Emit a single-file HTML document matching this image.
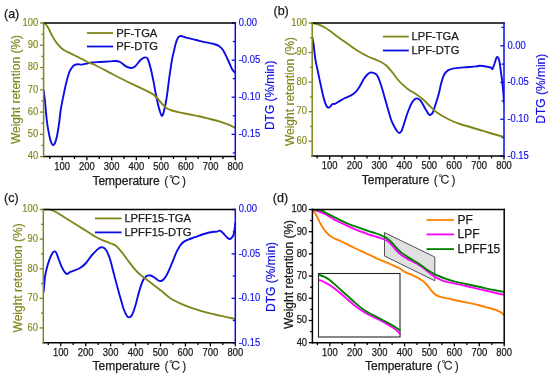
<!DOCTYPE html>
<html><head><meta charset="utf-8"><title>TGA / DTG curves</title>
<style>html,body{margin:0;padding:0;background:#fff;}svg{display:block;}</style>
</head><body>
<svg width="550" height="379" viewBox="0 0 550 379" font-family="'Liberation Sans', Arial, sans-serif">
<rect width="550" height="379" fill="#ffffff"/>
<text x="4" y="17.8" fill="#1a1a1a" stroke="#1a1a1a" stroke-width="0.25" font-size="12.5" text-anchor="start">(a)</text>
<text x="273.5" y="15.3" fill="#1a1a1a" stroke="#1a1a1a" stroke-width="0.25" font-size="12.5" text-anchor="start">(b)</text>
<text x="4" y="202" fill="#1a1a1a" stroke="#1a1a1a" stroke-width="0.25" font-size="12.5" text-anchor="start">(c)</text>
<text x="272.8" y="202.2" fill="#1a1a1a" stroke="#1a1a1a" stroke-width="0.25" font-size="12.5" text-anchor="start">(d)</text>
<clipPath id="clipa"><rect x="43.6" y="22" width="191.7" height="135.6"/></clipPath>
<line x1="62.15" y1="156.6" x2="62.15" y2="160.2" stroke="#000000" stroke-width="1.3"/>
<text x="62.15" y="169.5" fill="#1a1a1a" stroke="#1a1a1a" stroke-width="0.25" font-size="10.4" text-anchor="middle" textLength="15.68" lengthAdjust="spacingAndGlyphs">100</text>
<line x1="86.89" y1="156.6" x2="86.89" y2="160.2" stroke="#000000" stroke-width="1.3"/>
<text x="86.89" y="169.5" fill="#1a1a1a" stroke="#1a1a1a" stroke-width="0.25" font-size="10.4" text-anchor="middle" textLength="15.68" lengthAdjust="spacingAndGlyphs">200</text>
<line x1="111.62" y1="156.6" x2="111.62" y2="160.2" stroke="#000000" stroke-width="1.3"/>
<text x="111.62" y="169.5" fill="#1a1a1a" stroke="#1a1a1a" stroke-width="0.25" font-size="10.4" text-anchor="middle" textLength="15.68" lengthAdjust="spacingAndGlyphs">300</text>
<line x1="136.36" y1="156.6" x2="136.36" y2="160.2" stroke="#000000" stroke-width="1.3"/>
<text x="136.36" y="169.5" fill="#1a1a1a" stroke="#1a1a1a" stroke-width="0.25" font-size="10.4" text-anchor="middle" textLength="15.68" lengthAdjust="spacingAndGlyphs">400</text>
<line x1="161.09" y1="156.6" x2="161.09" y2="160.2" stroke="#000000" stroke-width="1.3"/>
<text x="161.09" y="169.5" fill="#1a1a1a" stroke="#1a1a1a" stroke-width="0.25" font-size="10.4" text-anchor="middle" textLength="15.68" lengthAdjust="spacingAndGlyphs">500</text>
<line x1="185.83" y1="156.6" x2="185.83" y2="160.2" stroke="#000000" stroke-width="1.3"/>
<text x="185.83" y="169.5" fill="#1a1a1a" stroke="#1a1a1a" stroke-width="0.25" font-size="10.4" text-anchor="middle" textLength="15.68" lengthAdjust="spacingAndGlyphs">600</text>
<line x1="210.56" y1="156.6" x2="210.56" y2="160.2" stroke="#000000" stroke-width="1.3"/>
<text x="210.56" y="169.5" fill="#1a1a1a" stroke="#1a1a1a" stroke-width="0.25" font-size="10.4" text-anchor="middle" textLength="15.68" lengthAdjust="spacingAndGlyphs">700</text>
<line x1="235.3" y1="156.6" x2="235.3" y2="160.2" stroke="#000000" stroke-width="1.3"/>
<text x="235.3" y="169.5" fill="#1a1a1a" stroke="#1a1a1a" stroke-width="0.25" font-size="10.4" text-anchor="middle" textLength="15.68" lengthAdjust="spacingAndGlyphs">800</text>
<line x1="49.78" y1="156.6" x2="49.78" y2="159" stroke="#000000" stroke-width="1.3"/>
<line x1="74.52" y1="156.6" x2="74.52" y2="159" stroke="#000000" stroke-width="1.3"/>
<line x1="99.25" y1="156.6" x2="99.25" y2="159" stroke="#000000" stroke-width="1.3"/>
<line x1="123.99" y1="156.6" x2="123.99" y2="159" stroke="#000000" stroke-width="1.3"/>
<line x1="148.73" y1="156.6" x2="148.73" y2="159" stroke="#000000" stroke-width="1.3"/>
<line x1="173.46" y1="156.6" x2="173.46" y2="159" stroke="#000000" stroke-width="1.3"/>
<line x1="198.2" y1="156.6" x2="198.2" y2="159" stroke="#000000" stroke-width="1.3"/>
<line x1="222.93" y1="156.6" x2="222.93" y2="159" stroke="#000000" stroke-width="1.3"/>
<line x1="40" y1="156.6" x2="43.6" y2="156.6" stroke="#80861A" stroke-width="1.3"/>
<text x="38.3" y="159.4" fill="#80861A" stroke="#80861A" stroke-width="0.15" font-size="10.4" text-anchor="end" textLength="10.45" lengthAdjust="spacingAndGlyphs">40</text>
<line x1="40" y1="134.33" x2="43.6" y2="134.33" stroke="#80861A" stroke-width="1.3"/>
<text x="38.3" y="137.13" fill="#80861A" stroke="#80861A" stroke-width="0.15" font-size="10.4" text-anchor="end" textLength="10.45" lengthAdjust="spacingAndGlyphs">50</text>
<line x1="40" y1="112.07" x2="43.6" y2="112.07" stroke="#80861A" stroke-width="1.3"/>
<text x="38.3" y="114.87" fill="#80861A" stroke="#80861A" stroke-width="0.15" font-size="10.4" text-anchor="end" textLength="10.45" lengthAdjust="spacingAndGlyphs">60</text>
<line x1="40" y1="89.8" x2="43.6" y2="89.8" stroke="#80861A" stroke-width="1.3"/>
<text x="38.3" y="92.6" fill="#80861A" stroke="#80861A" stroke-width="0.15" font-size="10.4" text-anchor="end" textLength="10.45" lengthAdjust="spacingAndGlyphs">70</text>
<line x1="40" y1="67.53" x2="43.6" y2="67.53" stroke="#80861A" stroke-width="1.3"/>
<text x="38.3" y="70.33" fill="#80861A" stroke="#80861A" stroke-width="0.15" font-size="10.4" text-anchor="end" textLength="10.45" lengthAdjust="spacingAndGlyphs">80</text>
<line x1="40" y1="45.27" x2="43.6" y2="45.27" stroke="#80861A" stroke-width="1.3"/>
<text x="38.3" y="48.07" fill="#80861A" stroke="#80861A" stroke-width="0.15" font-size="10.4" text-anchor="end" textLength="10.45" lengthAdjust="spacingAndGlyphs">90</text>
<line x1="40" y1="23" x2="43.6" y2="23" stroke="#80861A" stroke-width="1.3"/>
<text x="38.3" y="25.8" fill="#80861A" stroke="#80861A" stroke-width="0.15" font-size="10.4" text-anchor="end" textLength="15.68" lengthAdjust="spacingAndGlyphs">100</text>
<line x1="41.3" y1="145.47" x2="43.6" y2="145.47" stroke="#80861A" stroke-width="1.3"/>
<line x1="41.3" y1="123.2" x2="43.6" y2="123.2" stroke="#80861A" stroke-width="1.3"/>
<line x1="41.3" y1="100.93" x2="43.6" y2="100.93" stroke="#80861A" stroke-width="1.3"/>
<line x1="41.3" y1="78.67" x2="43.6" y2="78.67" stroke="#80861A" stroke-width="1.3"/>
<line x1="41.3" y1="56.4" x2="43.6" y2="56.4" stroke="#80861A" stroke-width="1.3"/>
<line x1="41.3" y1="34.13" x2="43.6" y2="34.13" stroke="#80861A" stroke-width="1.3"/>
<line x1="231.6" y1="23" x2="235.3" y2="23" stroke="#0C0CE6" stroke-width="1.3"/>
<text x="238.7" y="25.8" fill="#0C0CE6" stroke="#0C0CE6" stroke-width="0.15" font-size="10.4" text-anchor="start" textLength="18.29" lengthAdjust="spacingAndGlyphs">0.00</text>
<line x1="231.6" y1="60.11" x2="235.3" y2="60.11" stroke="#0C0CE6" stroke-width="1.3"/>
<text x="238.7" y="62.91" fill="#0C0CE6" stroke="#0C0CE6" stroke-width="0.15" font-size="10.4" text-anchor="start" textLength="21.42" lengthAdjust="spacingAndGlyphs">-0.05</text>
<line x1="231.6" y1="97.22" x2="235.3" y2="97.22" stroke="#0C0CE6" stroke-width="1.3"/>
<text x="238.7" y="100.02" fill="#0C0CE6" stroke="#0C0CE6" stroke-width="0.15" font-size="10.4" text-anchor="start" textLength="21.42" lengthAdjust="spacingAndGlyphs">-0.10</text>
<line x1="231.6" y1="134.33" x2="235.3" y2="134.33" stroke="#0C0CE6" stroke-width="1.3"/>
<text x="238.7" y="137.13" fill="#0C0CE6" stroke="#0C0CE6" stroke-width="0.15" font-size="10.4" text-anchor="start" textLength="21.42" lengthAdjust="spacingAndGlyphs">-0.15</text>
<line x1="232.8" y1="41.56" x2="235.3" y2="41.56" stroke="#0C0CE6" stroke-width="1.3"/>
<line x1="232.8" y1="78.67" x2="235.3" y2="78.67" stroke="#0C0CE6" stroke-width="1.3"/>
<line x1="232.8" y1="115.78" x2="235.3" y2="115.78" stroke="#0C0CE6" stroke-width="1.3"/>
<line x1="232.8" y1="152.89" x2="235.3" y2="152.89" stroke="#0C0CE6" stroke-width="1.3"/>
<path d="M43.6,90C43.82,91.67 44.53,96.67 44.9,100C45.27,103.33 45.45,106.33 45.8,110C46.15,113.67 46.47,118 47,122C47.53,126 48.33,130.67 49,134C49.67,137.33 50.33,140.17 51,142C51.67,143.83 52.33,144.83 53,145C53.67,145.17 54.33,144.5 55,143C55.67,141.5 56.33,139.17 57,136C57.67,132.83 58.38,128.33 59,124C59.62,119.67 59.98,114.6 60.7,110C61.42,105.4 62.42,100.78 63.3,96.4C64.18,92.02 65.12,87.4 66,83.7C66.88,80 67.87,76.48 68.6,74.2C69.33,71.92 69.55,71.45 70.4,70C71.25,68.55 72.5,66.47 73.7,65.5C74.9,64.53 76.28,64.35 77.6,64.2C78.92,64.05 80.05,64.72 81.6,64.6C83.15,64.48 85.17,63.85 86.9,63.5C88.63,63.15 89.82,62.75 92,62.5C94.18,62.25 97,62.18 100,62C103,61.82 107.5,61.57 110,61.4C112.5,61.23 113.33,60.9 115,61C116.67,61.1 118.17,61.1 120,62C121.83,62.9 124.17,65.4 126,66.4C127.83,67.4 129.5,67.97 131,68C132.5,68.03 133.42,67.93 135,66.6C136.58,65.27 138.82,61.53 140.5,60C142.18,58.47 143.87,57.53 145.1,57.4C146.33,57.27 146.97,57.35 147.9,59.2C148.83,61.05 149.77,64.8 150.7,68.5C151.63,72.2 152.58,76.82 153.5,81.4C154.42,85.98 155.25,91.4 156.2,96C157.15,100.6 158.27,105.7 159.2,109C160.13,112.3 161,115.47 161.8,115.8C162.6,116.13 163.2,113.97 164,111C164.8,108.03 165.72,103.55 166.6,98C167.48,92.45 168.38,84.17 169.3,77.7C170.22,71.23 171.28,63.82 172.1,59.2C172.92,54.58 173.62,52.53 174.2,50C174.78,47.47 174.97,46.03 175.6,44C176.23,41.97 177.1,39.13 178,37.8C178.9,36.47 179.67,36.03 181,36C182.33,35.97 183.5,36.93 186,37.6C188.5,38.27 192.67,39.2 196,40C199.33,40.8 203,41.73 206,42.4C209,43.07 211.83,43.4 214,44C216.17,44.6 217.5,45 219,46C220.5,47 221.5,47.67 223,50C224.5,52.33 226.5,56.83 228,60C229.5,63.17 230.78,66.83 232,69C233.22,71.17 234.75,72.33 235.3,73" fill="none" stroke="#0C0CE6" stroke-width="1.9" stroke-linejoin="round" stroke-linecap="round" clip-path="url(#clipa)"/>
<path d="M43.6,23C44,23.27 45.28,23.88 46,24.6C46.72,25.32 47.25,26.2 47.9,27.3C48.55,28.4 49.23,29.88 49.9,31.2C50.57,32.52 51.13,33.77 51.9,35.2C52.67,36.63 53.52,38.27 54.5,39.8C55.48,41.33 56.58,42.97 57.8,44.4C59.02,45.83 60.48,47.3 61.8,48.4C63.12,49.5 64.17,50.13 65.7,51C67.23,51.87 69.02,52.62 71,53.6C72.98,54.58 75.4,55.8 77.6,56.9C79.8,58 82.22,59.2 84.2,60.2C86.18,61.2 87.53,62.02 89.5,62.9C91.47,63.78 92.58,63.85 96,65.5C99.42,67.15 105.33,70.38 110,72.8C114.67,75.22 119.83,77.92 124,80C128.17,82.08 131.63,83.68 135,85.3C138.37,86.92 141.43,88.35 144.2,89.7C146.97,91.05 149.45,92.02 151.6,93.4C153.75,94.78 155.4,96.32 157.1,98C158.8,99.68 160.25,101.83 161.8,103.5C163.35,105.17 164.72,106.83 166.4,108C168.08,109.17 169.75,109.77 171.9,110.5C174.05,111.23 176.28,111.73 179.3,112.4C182.32,113.07 186.55,113.82 190,114.5C193.45,115.18 196.67,115.75 200,116.5C203.33,117.25 206.67,118.15 210,119C213.33,119.85 217,120.7 220,121.6C223,122.5 225.45,123.33 228,124.4C230.55,125.47 234.08,127.4 235.3,128" fill="none" stroke="#80861A" stroke-width="1.9" stroke-linejoin="round" stroke-linecap="round" clip-path="url(#clipa)"/>
<line x1="42.85" y1="23" x2="236.05" y2="23" stroke="#000000" stroke-width="1.5"/>
<line x1="42.85" y1="156.6" x2="236.05" y2="156.6" stroke="#000000" stroke-width="1.5"/>
<line x1="43.6" y1="22.25" x2="43.6" y2="157.35" stroke="#80861A" stroke-width="1.5"/>
<line x1="235.3" y1="22.25" x2="235.3" y2="157.35" stroke="#0C0CE6" stroke-width="1.5"/>
<line x1="86.9" y1="33" x2="113.1" y2="33" stroke="#80861A" stroke-width="1.8"/>
<line x1="86.9" y1="46.5" x2="113.1" y2="46.5" stroke="#0C0CE6" stroke-width="1.8"/>
<text x="116.3" y="36.9" fill="#1a1a1a" stroke="#1a1a1a" stroke-width="0.25" font-size="11.2" text-anchor="start">PF-TGA</text>
<text x="116.3" y="50.3" fill="#1a1a1a" stroke="#1a1a1a" stroke-width="0.25" font-size="11.2" text-anchor="start">PF-DTG</text>
<text transform="translate(20.2,89.5) rotate(-90)" fill="#80861A" stroke="#80861A" stroke-width="0.15" font-size="12" text-anchor="middle">Weight retention (%)</text>
<text transform="translate(274.3,95.3) rotate(-90)" fill="#0C0CE6" stroke="#0C0CE6" stroke-width="0.15" font-size="11.9" text-anchor="middle">DTG (%/min)</text>
<clipPath id="clipb"><rect x="312.2" y="22" width="191.8" height="135"/></clipPath>
<line x1="329.64" y1="156" x2="329.64" y2="159.6" stroke="#000000" stroke-width="1.3"/>
<text x="329.64" y="168.9" fill="#1a1a1a" stroke="#1a1a1a" stroke-width="0.25" font-size="10.4" text-anchor="middle" textLength="15.68" lengthAdjust="spacingAndGlyphs">100</text>
<line x1="354.55" y1="156" x2="354.55" y2="159.6" stroke="#000000" stroke-width="1.3"/>
<text x="354.55" y="168.9" fill="#1a1a1a" stroke="#1a1a1a" stroke-width="0.25" font-size="10.4" text-anchor="middle" textLength="15.68" lengthAdjust="spacingAndGlyphs">200</text>
<line x1="379.45" y1="156" x2="379.45" y2="159.6" stroke="#000000" stroke-width="1.3"/>
<text x="379.45" y="168.9" fill="#1a1a1a" stroke="#1a1a1a" stroke-width="0.25" font-size="10.4" text-anchor="middle" textLength="15.68" lengthAdjust="spacingAndGlyphs">300</text>
<line x1="404.36" y1="156" x2="404.36" y2="159.6" stroke="#000000" stroke-width="1.3"/>
<text x="404.36" y="168.9" fill="#1a1a1a" stroke="#1a1a1a" stroke-width="0.25" font-size="10.4" text-anchor="middle" textLength="15.68" lengthAdjust="spacingAndGlyphs">400</text>
<line x1="429.27" y1="156" x2="429.27" y2="159.6" stroke="#000000" stroke-width="1.3"/>
<text x="429.27" y="168.9" fill="#1a1a1a" stroke="#1a1a1a" stroke-width="0.25" font-size="10.4" text-anchor="middle" textLength="15.68" lengthAdjust="spacingAndGlyphs">500</text>
<line x1="454.18" y1="156" x2="454.18" y2="159.6" stroke="#000000" stroke-width="1.3"/>
<text x="454.18" y="168.9" fill="#1a1a1a" stroke="#1a1a1a" stroke-width="0.25" font-size="10.4" text-anchor="middle" textLength="15.68" lengthAdjust="spacingAndGlyphs">600</text>
<line x1="479.09" y1="156" x2="479.09" y2="159.6" stroke="#000000" stroke-width="1.3"/>
<text x="479.09" y="168.9" fill="#1a1a1a" stroke="#1a1a1a" stroke-width="0.25" font-size="10.4" text-anchor="middle" textLength="15.68" lengthAdjust="spacingAndGlyphs">700</text>
<line x1="504" y1="156" x2="504" y2="159.6" stroke="#000000" stroke-width="1.3"/>
<text x="504" y="168.9" fill="#1a1a1a" stroke="#1a1a1a" stroke-width="0.25" font-size="10.4" text-anchor="middle" textLength="15.68" lengthAdjust="spacingAndGlyphs">800</text>
<line x1="317.18" y1="156" x2="317.18" y2="158.4" stroke="#000000" stroke-width="1.3"/>
<line x1="342.09" y1="156" x2="342.09" y2="158.4" stroke="#000000" stroke-width="1.3"/>
<line x1="367" y1="156" x2="367" y2="158.4" stroke="#000000" stroke-width="1.3"/>
<line x1="391.91" y1="156" x2="391.91" y2="158.4" stroke="#000000" stroke-width="1.3"/>
<line x1="416.82" y1="156" x2="416.82" y2="158.4" stroke="#000000" stroke-width="1.3"/>
<line x1="441.73" y1="156" x2="441.73" y2="158.4" stroke="#000000" stroke-width="1.3"/>
<line x1="466.64" y1="156" x2="466.64" y2="158.4" stroke="#000000" stroke-width="1.3"/>
<line x1="491.55" y1="156" x2="491.55" y2="158.4" stroke="#000000" stroke-width="1.3"/>
<line x1="308.6" y1="141.22" x2="312.2" y2="141.22" stroke="#80861A" stroke-width="1.3"/>
<text x="306.9" y="144.02" fill="#80861A" stroke="#80861A" stroke-width="0.15" font-size="10.4" text-anchor="end" textLength="10.45" lengthAdjust="spacingAndGlyphs">60</text>
<line x1="308.6" y1="111.67" x2="312.2" y2="111.67" stroke="#80861A" stroke-width="1.3"/>
<text x="306.9" y="114.47" fill="#80861A" stroke="#80861A" stroke-width="0.15" font-size="10.4" text-anchor="end" textLength="10.45" lengthAdjust="spacingAndGlyphs">70</text>
<line x1="308.6" y1="82.11" x2="312.2" y2="82.11" stroke="#80861A" stroke-width="1.3"/>
<text x="306.9" y="84.91" fill="#80861A" stroke="#80861A" stroke-width="0.15" font-size="10.4" text-anchor="end" textLength="10.45" lengthAdjust="spacingAndGlyphs">80</text>
<line x1="308.6" y1="52.56" x2="312.2" y2="52.56" stroke="#80861A" stroke-width="1.3"/>
<text x="306.9" y="55.36" fill="#80861A" stroke="#80861A" stroke-width="0.15" font-size="10.4" text-anchor="end" textLength="10.45" lengthAdjust="spacingAndGlyphs">90</text>
<line x1="308.6" y1="23" x2="312.2" y2="23" stroke="#80861A" stroke-width="1.3"/>
<text x="306.9" y="25.8" fill="#80861A" stroke="#80861A" stroke-width="0.15" font-size="10.4" text-anchor="end" textLength="15.68" lengthAdjust="spacingAndGlyphs">100</text>
<line x1="309.9" y1="126.44" x2="312.2" y2="126.44" stroke="#80861A" stroke-width="1.3"/>
<line x1="309.9" y1="96.89" x2="312.2" y2="96.89" stroke="#80861A" stroke-width="1.3"/>
<line x1="309.9" y1="67.33" x2="312.2" y2="67.33" stroke="#80861A" stroke-width="1.3"/>
<line x1="309.9" y1="37.78" x2="312.2" y2="37.78" stroke="#80861A" stroke-width="1.3"/>
<line x1="500.3" y1="45.77" x2="504" y2="45.77" stroke="#0C0CE6" stroke-width="1.3"/>
<text x="507.4" y="48.57" fill="#0C0CE6" stroke="#0C0CE6" stroke-width="0.15" font-size="10.4" text-anchor="start" textLength="18.29" lengthAdjust="spacingAndGlyphs">0.00</text>
<line x1="500.3" y1="82.51" x2="504" y2="82.51" stroke="#0C0CE6" stroke-width="1.3"/>
<text x="507.4" y="85.31" fill="#0C0CE6" stroke="#0C0CE6" stroke-width="0.15" font-size="10.4" text-anchor="start" textLength="21.42" lengthAdjust="spacingAndGlyphs">-0.05</text>
<line x1="500.3" y1="119.26" x2="504" y2="119.26" stroke="#0C0CE6" stroke-width="1.3"/>
<text x="507.4" y="122.06" fill="#0C0CE6" stroke="#0C0CE6" stroke-width="0.15" font-size="10.4" text-anchor="start" textLength="21.42" lengthAdjust="spacingAndGlyphs">-0.10</text>
<line x1="500.3" y1="156" x2="504" y2="156" stroke="#0C0CE6" stroke-width="1.3"/>
<text x="507.4" y="158.8" fill="#0C0CE6" stroke="#0C0CE6" stroke-width="0.15" font-size="10.4" text-anchor="start" textLength="21.42" lengthAdjust="spacingAndGlyphs">-0.15</text>
<line x1="501.5" y1="27.39" x2="504" y2="27.39" stroke="#0C0CE6" stroke-width="1.3"/>
<line x1="501.5" y1="64.14" x2="504" y2="64.14" stroke="#0C0CE6" stroke-width="1.3"/>
<line x1="501.5" y1="100.88" x2="504" y2="100.88" stroke="#0C0CE6" stroke-width="1.3"/>
<line x1="501.5" y1="137.63" x2="504" y2="137.63" stroke="#0C0CE6" stroke-width="1.3"/>
<path d="M312.2,37C312.42,38.17 312.95,40.17 313.5,44C314.05,47.83 314.87,55.88 315.5,60C316.13,64.12 316.65,65.55 317.3,68.7C317.95,71.85 318.68,75.52 319.4,78.9C320.12,82.28 320.87,85.73 321.6,89C322.33,92.27 323.07,95.83 323.8,98.5C324.53,101.17 325.27,103.47 326,105C326.73,106.53 327.48,107.45 328.2,107.7C328.92,107.95 329.58,107.12 330.3,106.5C331.02,105.88 331.77,104.43 332.5,104C333.23,103.57 333.62,104.33 334.7,103.9C335.78,103.47 337.3,102.38 339,101.4C340.7,100.42 342.95,98.97 344.9,98C346.85,97.03 349.02,96.48 350.7,95.6C352.38,94.72 353.55,94.15 355,92.7C356.45,91.25 357.93,89.2 359.4,86.9C360.87,84.6 362.47,80.97 363.8,78.9C365.13,76.83 366.37,75.55 367.4,74.5C368.43,73.45 368.95,72.85 370,72.6C371.05,72.35 372.47,72.47 373.7,73C374.93,73.53 376.18,73.8 377.4,75.8C378.62,77.8 379.77,81.3 381,85C382.23,88.7 383.55,93.67 384.8,98C386.05,102.33 387.43,107.33 388.5,111C389.57,114.67 390.28,117.5 391.2,120C392.12,122.5 393.03,124.17 394,126C394.97,127.83 396.1,129.83 397,131C397.9,132.17 398.65,133 399.4,133C400.15,133 400.82,132.25 401.5,131C402.18,129.75 402.83,127.5 403.5,125.5C404.17,123.5 404.83,121.08 405.5,119C406.17,116.92 406.8,114.92 407.5,113C408.2,111.08 408.95,109.25 409.7,107.5C410.45,105.75 411.2,103.83 412,102.5C412.8,101.17 413.67,100.18 414.5,99.5C415.33,98.82 415.95,98.18 417,98.4C418.05,98.62 419.4,99.03 420.8,100.8C422.2,102.57 424.03,106.7 425.4,109C426.77,111.3 428.07,113.68 429,114.6C429.93,115.52 430.33,114.93 431,114.5C431.67,114.07 432.17,113.92 433,112C433.83,110.08 435,106.17 436,103C437,99.83 438.17,96.17 439,93C439.83,89.83 440.17,87 441,84C441.83,81 442.83,77.27 444,75C445.17,72.73 446.33,71.5 448,70.4C449.67,69.3 451.33,68.9 454,68.4C456.67,67.9 460.33,67.73 464,67.4C467.67,67.07 473.33,66.67 476,66.4C478.67,66.13 478.1,65.75 480,65.8C481.9,65.85 485.57,66.4 487.4,66.7C489.23,67 490.15,67.2 491,67.6C491.85,68 491.93,69.7 492.5,69.1C493.07,68.5 493.72,65.93 494.4,64C495.08,62.07 496,58.58 496.6,57.5C497.2,56.42 497.53,56.88 498,57.5C498.47,58.12 498.97,59.2 499.4,61.2C499.83,63.2 500.15,66.27 500.6,69.5C501.05,72.73 501.63,76.6 502.1,80.6C502.57,84.6 503.08,89.82 503.4,93.5C503.72,97.18 503.9,101.17 504,102.7" fill="none" stroke="#0C0CE6" stroke-width="1.9" stroke-linejoin="round" stroke-linecap="round" clip-path="url(#clipb)"/>
<path d="M312.2,23C313.17,23.23 316.03,23.73 318,24.4C319.97,25.07 322,25.9 324,27C326,28.1 327.67,29.33 330,31C332.33,32.67 335,34.83 338,37C341,39.17 344.67,41.67 348,44C351.33,46.33 354.67,48.92 358,51C361.33,53.08 365.08,55.07 368,56.5C370.92,57.93 373.33,58.68 375.5,59.6C377.67,60.52 379.15,60.98 381,62C382.85,63.02 384.73,64 386.6,65.7C388.47,67.4 390.35,69.9 392.2,72.2C394.05,74.5 395.87,77.35 397.7,79.5C399.53,81.65 401.35,83.4 403.2,85.1C405.05,86.8 406.63,88.17 408.8,89.7C410.97,91.23 413.75,92.62 416.2,94.3C418.65,95.98 421.2,97.8 423.5,99.8C425.8,101.8 428.08,104.43 430,106.3C431.92,108.17 433.33,109.63 435,111C436.67,112.37 437.5,113 440,114.5C442.5,116 446.67,118.42 450,120C453.33,121.58 456.67,122.83 460,124C463.33,125.17 466.67,126 470,127C473.33,128 476.67,129 480,130C483.33,131 486,131.83 490,133C494,134.17 501.67,136.33 504,137" fill="none" stroke="#80861A" stroke-width="1.9" stroke-linejoin="round" stroke-linecap="round" clip-path="url(#clipb)"/>
<line x1="311.45" y1="23" x2="504.75" y2="23" stroke="#000000" stroke-width="1.5"/>
<line x1="311.45" y1="156" x2="504.75" y2="156" stroke="#000000" stroke-width="1.5"/>
<line x1="312.2" y1="22.25" x2="312.2" y2="156.75" stroke="#80861A" stroke-width="1.5"/>
<line x1="504" y1="22.25" x2="504" y2="156.75" stroke="#0C0CE6" stroke-width="1.5"/>
<line x1="382.9" y1="36.6" x2="408.8" y2="36.6" stroke="#80861A" stroke-width="1.8"/>
<line x1="382.9" y1="50.5" x2="408.8" y2="50.5" stroke="#0C0CE6" stroke-width="1.8"/>
<text x="411.5" y="40.4" fill="#1a1a1a" stroke="#1a1a1a" stroke-width="0.25" font-size="11.2" text-anchor="start">LPF-TGA</text>
<text x="411.5" y="53.9" fill="#1a1a1a" stroke="#1a1a1a" stroke-width="0.25" font-size="11.2" text-anchor="start">LPF-DTG</text>
<text transform="translate(293.6,91.5) rotate(-90)" fill="#80861A" stroke="#80861A" stroke-width="0.15" font-size="12" text-anchor="middle">Weight retention (%)</text>
<text transform="translate(545,88.75) rotate(-90)" fill="#0C0CE6" stroke="#0C0CE6" stroke-width="0.15" font-size="12" text-anchor="middle">DTG (%/min)</text>
<clipPath id="clipc"><rect x="43.3" y="208.5" width="192" height="135.2"/></clipPath>
<line x1="60.75" y1="342.7" x2="60.75" y2="346.3" stroke="#000000" stroke-width="1.3"/>
<text x="60.75" y="355.6" fill="#1a1a1a" stroke="#1a1a1a" stroke-width="0.25" font-size="10.4" text-anchor="middle" textLength="15.68" lengthAdjust="spacingAndGlyphs">100</text>
<line x1="85.69" y1="342.7" x2="85.69" y2="346.3" stroke="#000000" stroke-width="1.3"/>
<text x="85.69" y="355.6" fill="#1a1a1a" stroke="#1a1a1a" stroke-width="0.25" font-size="10.4" text-anchor="middle" textLength="15.68" lengthAdjust="spacingAndGlyphs">200</text>
<line x1="110.62" y1="342.7" x2="110.62" y2="346.3" stroke="#000000" stroke-width="1.3"/>
<text x="110.62" y="355.6" fill="#1a1a1a" stroke="#1a1a1a" stroke-width="0.25" font-size="10.4" text-anchor="middle" textLength="15.68" lengthAdjust="spacingAndGlyphs">300</text>
<line x1="135.56" y1="342.7" x2="135.56" y2="346.3" stroke="#000000" stroke-width="1.3"/>
<text x="135.56" y="355.6" fill="#1a1a1a" stroke="#1a1a1a" stroke-width="0.25" font-size="10.4" text-anchor="middle" textLength="15.68" lengthAdjust="spacingAndGlyphs">400</text>
<line x1="160.49" y1="342.7" x2="160.49" y2="346.3" stroke="#000000" stroke-width="1.3"/>
<text x="160.49" y="355.6" fill="#1a1a1a" stroke="#1a1a1a" stroke-width="0.25" font-size="10.4" text-anchor="middle" textLength="15.68" lengthAdjust="spacingAndGlyphs">500</text>
<line x1="185.43" y1="342.7" x2="185.43" y2="346.3" stroke="#000000" stroke-width="1.3"/>
<text x="185.43" y="355.6" fill="#1a1a1a" stroke="#1a1a1a" stroke-width="0.25" font-size="10.4" text-anchor="middle" textLength="15.68" lengthAdjust="spacingAndGlyphs">600</text>
<line x1="210.36" y1="342.7" x2="210.36" y2="346.3" stroke="#000000" stroke-width="1.3"/>
<text x="210.36" y="355.6" fill="#1a1a1a" stroke="#1a1a1a" stroke-width="0.25" font-size="10.4" text-anchor="middle" textLength="15.68" lengthAdjust="spacingAndGlyphs">700</text>
<line x1="235.3" y1="342.7" x2="235.3" y2="346.3" stroke="#000000" stroke-width="1.3"/>
<text x="235.3" y="355.6" fill="#1a1a1a" stroke="#1a1a1a" stroke-width="0.25" font-size="10.4" text-anchor="middle" textLength="15.68" lengthAdjust="spacingAndGlyphs">800</text>
<line x1="48.29" y1="342.7" x2="48.29" y2="345.1" stroke="#000000" stroke-width="1.3"/>
<line x1="73.22" y1="342.7" x2="73.22" y2="345.1" stroke="#000000" stroke-width="1.3"/>
<line x1="98.16" y1="342.7" x2="98.16" y2="345.1" stroke="#000000" stroke-width="1.3"/>
<line x1="123.09" y1="342.7" x2="123.09" y2="345.1" stroke="#000000" stroke-width="1.3"/>
<line x1="148.03" y1="342.7" x2="148.03" y2="345.1" stroke="#000000" stroke-width="1.3"/>
<line x1="172.96" y1="342.7" x2="172.96" y2="345.1" stroke="#000000" stroke-width="1.3"/>
<line x1="197.9" y1="342.7" x2="197.9" y2="345.1" stroke="#000000" stroke-width="1.3"/>
<line x1="222.83" y1="342.7" x2="222.83" y2="345.1" stroke="#000000" stroke-width="1.3"/>
<line x1="39.7" y1="327.9" x2="43.3" y2="327.9" stroke="#80861A" stroke-width="1.3"/>
<text x="38" y="330.7" fill="#80861A" stroke="#80861A" stroke-width="0.15" font-size="10.4" text-anchor="end" textLength="10.45" lengthAdjust="spacingAndGlyphs">60</text>
<line x1="39.7" y1="298.3" x2="43.3" y2="298.3" stroke="#80861A" stroke-width="1.3"/>
<text x="38" y="301.1" fill="#80861A" stroke="#80861A" stroke-width="0.15" font-size="10.4" text-anchor="end" textLength="10.45" lengthAdjust="spacingAndGlyphs">70</text>
<line x1="39.7" y1="268.7" x2="43.3" y2="268.7" stroke="#80861A" stroke-width="1.3"/>
<text x="38" y="271.5" fill="#80861A" stroke="#80861A" stroke-width="0.15" font-size="10.4" text-anchor="end" textLength="10.45" lengthAdjust="spacingAndGlyphs">80</text>
<line x1="39.7" y1="239.1" x2="43.3" y2="239.1" stroke="#80861A" stroke-width="1.3"/>
<text x="38" y="241.9" fill="#80861A" stroke="#80861A" stroke-width="0.15" font-size="10.4" text-anchor="end" textLength="10.45" lengthAdjust="spacingAndGlyphs">90</text>
<line x1="39.7" y1="209.5" x2="43.3" y2="209.5" stroke="#80861A" stroke-width="1.3"/>
<text x="38" y="212.3" fill="#80861A" stroke="#80861A" stroke-width="0.15" font-size="10.4" text-anchor="end" textLength="15.68" lengthAdjust="spacingAndGlyphs">100</text>
<line x1="41" y1="313.1" x2="43.3" y2="313.1" stroke="#80861A" stroke-width="1.3"/>
<line x1="41" y1="283.5" x2="43.3" y2="283.5" stroke="#80861A" stroke-width="1.3"/>
<line x1="41" y1="253.9" x2="43.3" y2="253.9" stroke="#80861A" stroke-width="1.3"/>
<line x1="41" y1="224.3" x2="43.3" y2="224.3" stroke="#80861A" stroke-width="1.3"/>
<line x1="231.6" y1="209.5" x2="235.3" y2="209.5" stroke="#0C0CE6" stroke-width="1.3"/>
<text x="238.7" y="212.3" fill="#0C0CE6" stroke="#0C0CE6" stroke-width="0.15" font-size="10.4" text-anchor="start" textLength="18.29" lengthAdjust="spacingAndGlyphs">0.00</text>
<line x1="231.6" y1="253.9" x2="235.3" y2="253.9" stroke="#0C0CE6" stroke-width="1.3"/>
<text x="238.7" y="256.7" fill="#0C0CE6" stroke="#0C0CE6" stroke-width="0.15" font-size="10.4" text-anchor="start" textLength="21.42" lengthAdjust="spacingAndGlyphs">-0.05</text>
<line x1="231.6" y1="298.3" x2="235.3" y2="298.3" stroke="#0C0CE6" stroke-width="1.3"/>
<text x="238.7" y="301.1" fill="#0C0CE6" stroke="#0C0CE6" stroke-width="0.15" font-size="10.4" text-anchor="start" textLength="21.42" lengthAdjust="spacingAndGlyphs">-0.10</text>
<line x1="231.6" y1="342.7" x2="235.3" y2="342.7" stroke="#0C0CE6" stroke-width="1.3"/>
<text x="238.7" y="345.5" fill="#0C0CE6" stroke="#0C0CE6" stroke-width="0.15" font-size="10.4" text-anchor="start" textLength="21.42" lengthAdjust="spacingAndGlyphs">-0.15</text>
<line x1="232.8" y1="231.7" x2="235.3" y2="231.7" stroke="#0C0CE6" stroke-width="1.3"/>
<line x1="232.8" y1="276.1" x2="235.3" y2="276.1" stroke="#0C0CE6" stroke-width="1.3"/>
<line x1="232.8" y1="320.5" x2="235.3" y2="320.5" stroke="#0C0CE6" stroke-width="1.3"/>
<path d="M43.6,292C43.7,290.83 43.95,287.6 44.2,285C44.45,282.4 44.68,279.15 45.1,276.4C45.52,273.65 46.03,271.13 46.7,268.5C47.37,265.87 48.18,263.12 49.1,260.6C50.02,258.08 51.28,254.93 52.2,253.4C53.12,251.87 53.93,251.53 54.6,251.4C55.27,251.27 55.53,251.33 56.2,252.6C56.87,253.87 57.68,256.62 58.6,259C59.52,261.38 60.65,264.67 61.7,266.9C62.75,269.13 63.98,271.22 64.9,272.4C65.82,273.58 66.42,274 67.2,274C67.98,274 68.47,272.97 69.6,272.4C70.73,271.83 72.27,271.33 74,270.6C75.73,269.87 78,269.27 80,268C82,266.73 84,265.17 86,263C88,260.83 89.83,257.47 92,255C94.17,252.53 97.18,249.47 99,248.2C100.82,246.93 101.75,247.13 102.9,247.4C104.05,247.67 104.73,247.92 105.9,249.8C107.07,251.68 108.58,254.73 109.9,258.7C111.22,262.67 112.4,268.3 113.8,273.6C115.2,278.9 116.88,285.35 118.3,290.5C119.72,295.65 121.35,301.25 122.3,304.5C123.25,307.75 123.22,308.08 124,310C124.78,311.92 126.17,314.77 127,316C127.83,317.23 128.17,317.57 129,317.4C129.83,317.23 130.9,317.07 132,315C133.1,312.93 134.5,308.6 135.6,305C136.7,301.4 137.45,297.32 138.6,293.4C139.75,289.48 141.18,284.4 142.5,281.5C143.82,278.6 145.18,277 146.5,276C147.82,275 149.08,275.25 150.4,275.5C151.72,275.75 153.07,276.67 154.4,277.5C155.73,278.33 157.3,279.92 158.4,280.5C159.5,281.08 160.15,281.17 161,281C161.85,280.83 162.67,280.28 163.5,279.5C164.33,278.72 165,278.03 166,276.3C167,274.57 168.32,271.75 169.5,269.1C170.68,266.45 171.9,263.3 173.1,260.4C174.3,257.5 175.48,254.23 176.7,251.7C177.92,249.17 179.18,246.88 180.4,245.2C181.62,243.52 182.43,242.63 184,241.6C185.57,240.57 187.97,239.73 189.8,239C191.63,238.27 192.63,238.03 195,237.2C197.37,236.37 201.17,234.87 204,234C206.83,233.13 209.83,232.4 212,232C214.17,231.6 215.67,231.83 217,231.6C218.33,231.37 219,230.37 220,230.6C221,230.83 221.83,231.87 223,233C224.17,234.13 225.83,236.4 227,237.4C228.17,238.4 229,239.23 230,239C231,238.77 232.27,237.33 233,236C233.73,234.67 234.02,233.17 234.4,231C234.78,228.83 235.15,224.33 235.3,223" fill="none" stroke="#0C0CE6" stroke-width="1.9" stroke-linejoin="round" stroke-linecap="round" clip-path="url(#clipc)"/>
<path d="M43.3,209.5C44.42,209.52 47.88,209.18 50,209.6C52.12,210.02 53.67,210.77 56,212C58.33,213.23 61.33,215.33 64,217C66.67,218.67 69.33,220.33 72,222C74.67,223.67 77.33,225.33 80,227C82.67,228.67 85.5,230.42 88,232C90.5,233.58 92.52,235.12 95,236.5C97.48,237.88 100.27,239.13 102.9,240.3C105.53,241.47 108.65,242.58 110.8,243.5C112.95,244.42 114.15,244.58 115.8,245.8C117.45,247.02 118.88,248.65 120.7,250.8C122.52,252.95 124.72,256.07 126.7,258.7C128.68,261.33 130.62,264.18 132.6,266.6C134.58,269.02 136.28,271.05 138.6,273.2C140.92,275.35 143.87,277.47 146.5,279.5C149.13,281.53 151.77,283.38 154.4,285.4C157.03,287.42 159.7,289.5 162.3,291.6C164.9,293.7 167.05,296.05 170,298C172.95,299.95 176.67,301.75 180,303.3C183.33,304.85 186.67,306.08 190,307.3C193.33,308.52 196.67,309.58 200,310.6C203.33,311.62 206.67,312.57 210,313.4C213.33,314.23 215.78,314.67 220,315.6C224.22,316.53 232.75,318.43 235.3,319" fill="none" stroke="#80861A" stroke-width="1.9" stroke-linejoin="round" stroke-linecap="round" clip-path="url(#clipc)"/>
<line x1="42.55" y1="209.5" x2="236.05" y2="209.5" stroke="#000000" stroke-width="1.5"/>
<line x1="42.55" y1="342.7" x2="236.05" y2="342.7" stroke="#000000" stroke-width="1.5"/>
<line x1="43.3" y1="208.75" x2="43.3" y2="343.45" stroke="#80861A" stroke-width="1.5"/>
<line x1="235.3" y1="208.75" x2="235.3" y2="343.45" stroke="#0C0CE6" stroke-width="1.5"/>
<line x1="95" y1="218.4" x2="121.6" y2="218.4" stroke="#80861A" stroke-width="1.8"/>
<line x1="95" y1="232.4" x2="121.6" y2="232.4" stroke="#0C0CE6" stroke-width="1.8"/>
<text x="124.4" y="222" fill="#1a1a1a" stroke="#1a1a1a" stroke-width="0.25" font-size="11.2" text-anchor="start">LPFF15-TGA</text>
<text x="124.4" y="236" fill="#1a1a1a" stroke="#1a1a1a" stroke-width="0.25" font-size="11.2" text-anchor="start">LPFF15-DTG</text>
<text transform="translate(22.3,277.9) rotate(-90)" fill="#80861A" stroke="#80861A" stroke-width="0.15" font-size="12" text-anchor="middle">Weight retention (%)</text>
<text transform="translate(275.2,276.9) rotate(-90)" fill="#0C0CE6" stroke="#0C0CE6" stroke-width="0.15" font-size="12" text-anchor="middle">DTG (%/min)</text>
<clipPath id="clipd"><rect x="312.4" y="208.5" width="191.8" height="135.2"/></clipPath>
<line x1="329.84" y1="342.7" x2="329.84" y2="346.3" stroke="#000000" stroke-width="1.3"/>
<text x="329.84" y="355.6" fill="#1a1a1a" stroke="#1a1a1a" stroke-width="0.25" font-size="10.4" text-anchor="middle" textLength="15.68" lengthAdjust="spacingAndGlyphs">100</text>
<line x1="354.75" y1="342.7" x2="354.75" y2="346.3" stroke="#000000" stroke-width="1.3"/>
<text x="354.75" y="355.6" fill="#1a1a1a" stroke="#1a1a1a" stroke-width="0.25" font-size="10.4" text-anchor="middle" textLength="15.68" lengthAdjust="spacingAndGlyphs">200</text>
<line x1="379.65" y1="342.7" x2="379.65" y2="346.3" stroke="#000000" stroke-width="1.3"/>
<text x="379.65" y="355.6" fill="#1a1a1a" stroke="#1a1a1a" stroke-width="0.25" font-size="10.4" text-anchor="middle" textLength="15.68" lengthAdjust="spacingAndGlyphs">300</text>
<line x1="404.56" y1="342.7" x2="404.56" y2="346.3" stroke="#000000" stroke-width="1.3"/>
<text x="404.56" y="355.6" fill="#1a1a1a" stroke="#1a1a1a" stroke-width="0.25" font-size="10.4" text-anchor="middle" textLength="15.68" lengthAdjust="spacingAndGlyphs">400</text>
<line x1="429.47" y1="342.7" x2="429.47" y2="346.3" stroke="#000000" stroke-width="1.3"/>
<text x="429.47" y="355.6" fill="#1a1a1a" stroke="#1a1a1a" stroke-width="0.25" font-size="10.4" text-anchor="middle" textLength="15.68" lengthAdjust="spacingAndGlyphs">500</text>
<line x1="454.38" y1="342.7" x2="454.38" y2="346.3" stroke="#000000" stroke-width="1.3"/>
<text x="454.38" y="355.6" fill="#1a1a1a" stroke="#1a1a1a" stroke-width="0.25" font-size="10.4" text-anchor="middle" textLength="15.68" lengthAdjust="spacingAndGlyphs">600</text>
<line x1="479.29" y1="342.7" x2="479.29" y2="346.3" stroke="#000000" stroke-width="1.3"/>
<text x="479.29" y="355.6" fill="#1a1a1a" stroke="#1a1a1a" stroke-width="0.25" font-size="10.4" text-anchor="middle" textLength="15.68" lengthAdjust="spacingAndGlyphs">700</text>
<line x1="504.2" y1="342.7" x2="504.2" y2="346.3" stroke="#000000" stroke-width="1.3"/>
<text x="504.2" y="355.6" fill="#1a1a1a" stroke="#1a1a1a" stroke-width="0.25" font-size="10.4" text-anchor="middle" textLength="15.68" lengthAdjust="spacingAndGlyphs">800</text>
<line x1="317.38" y1="342.7" x2="317.38" y2="345.1" stroke="#000000" stroke-width="1.3"/>
<line x1="342.29" y1="342.7" x2="342.29" y2="345.1" stroke="#000000" stroke-width="1.3"/>
<line x1="367.2" y1="342.7" x2="367.2" y2="345.1" stroke="#000000" stroke-width="1.3"/>
<line x1="392.11" y1="342.7" x2="392.11" y2="345.1" stroke="#000000" stroke-width="1.3"/>
<line x1="417.02" y1="342.7" x2="417.02" y2="345.1" stroke="#000000" stroke-width="1.3"/>
<line x1="441.93" y1="342.7" x2="441.93" y2="345.1" stroke="#000000" stroke-width="1.3"/>
<line x1="466.84" y1="342.7" x2="466.84" y2="345.1" stroke="#000000" stroke-width="1.3"/>
<line x1="491.75" y1="342.7" x2="491.75" y2="345.1" stroke="#000000" stroke-width="1.3"/>
<line x1="308.8" y1="342.7" x2="312.4" y2="342.7" stroke="#000000" stroke-width="1.3"/>
<text x="307.1" y="345.5" fill="#1a1a1a" stroke="#1a1a1a" stroke-width="0.25" font-size="10.4" text-anchor="end" textLength="10.45" lengthAdjust="spacingAndGlyphs">40</text>
<line x1="308.8" y1="320.5" x2="312.4" y2="320.5" stroke="#000000" stroke-width="1.3"/>
<text x="307.1" y="323.3" fill="#1a1a1a" stroke="#1a1a1a" stroke-width="0.25" font-size="10.4" text-anchor="end" textLength="10.45" lengthAdjust="spacingAndGlyphs">50</text>
<line x1="308.8" y1="298.3" x2="312.4" y2="298.3" stroke="#000000" stroke-width="1.3"/>
<text x="307.1" y="301.1" fill="#1a1a1a" stroke="#1a1a1a" stroke-width="0.25" font-size="10.4" text-anchor="end" textLength="10.45" lengthAdjust="spacingAndGlyphs">60</text>
<line x1="308.8" y1="276.1" x2="312.4" y2="276.1" stroke="#000000" stroke-width="1.3"/>
<text x="307.1" y="278.9" fill="#1a1a1a" stroke="#1a1a1a" stroke-width="0.25" font-size="10.4" text-anchor="end" textLength="10.45" lengthAdjust="spacingAndGlyphs">70</text>
<line x1="308.8" y1="253.9" x2="312.4" y2="253.9" stroke="#000000" stroke-width="1.3"/>
<text x="307.1" y="256.7" fill="#1a1a1a" stroke="#1a1a1a" stroke-width="0.25" font-size="10.4" text-anchor="end" textLength="10.45" lengthAdjust="spacingAndGlyphs">80</text>
<line x1="308.8" y1="231.7" x2="312.4" y2="231.7" stroke="#000000" stroke-width="1.3"/>
<text x="307.1" y="234.5" fill="#1a1a1a" stroke="#1a1a1a" stroke-width="0.25" font-size="10.4" text-anchor="end" textLength="10.45" lengthAdjust="spacingAndGlyphs">90</text>
<line x1="308.8" y1="209.5" x2="312.4" y2="209.5" stroke="#000000" stroke-width="1.3"/>
<text x="307.1" y="212.3" fill="#1a1a1a" stroke="#1a1a1a" stroke-width="0.25" font-size="10.4" text-anchor="end" textLength="15.68" lengthAdjust="spacingAndGlyphs">100</text>
<line x1="310.1" y1="331.6" x2="312.4" y2="331.6" stroke="#000000" stroke-width="1.3"/>
<line x1="310.1" y1="309.4" x2="312.4" y2="309.4" stroke="#000000" stroke-width="1.3"/>
<line x1="310.1" y1="287.2" x2="312.4" y2="287.2" stroke="#000000" stroke-width="1.3"/>
<line x1="310.1" y1="265" x2="312.4" y2="265" stroke="#000000" stroke-width="1.3"/>
<line x1="310.1" y1="242.8" x2="312.4" y2="242.8" stroke="#000000" stroke-width="1.3"/>
<line x1="310.1" y1="220.6" x2="312.4" y2="220.6" stroke="#000000" stroke-width="1.3"/>
<polygon points="384.5,232.6 434.8,257 434.8,280.8 384.5,256" fill="#e0e0e0" stroke="#404040" stroke-width="0.9"/>
<path d="M312.4,209.8C312.92,210.45 314.58,212.25 315.5,213.7C316.42,215.15 317.1,216.92 317.9,218.5C318.7,220.08 319.37,221.48 320.3,223.2C321.23,224.92 322.32,227.08 323.5,228.8C324.68,230.52 325.95,232.1 327.4,233.5C328.85,234.9 330.35,236.08 332.2,237.2C334.05,238.32 336.13,239.1 338.5,240.2C340.87,241.3 343.77,242.53 346.4,243.8C349.03,245.07 351.65,246.48 354.3,247.8C356.95,249.12 359.65,250.47 362.3,251.7C364.95,252.93 367.82,254.1 370.2,255.2C372.58,256.3 374.43,257.3 376.6,258.3C378.77,259.3 381,260.28 383.2,261.2C385.4,262.12 387.6,262.87 389.8,263.8C392,264.73 394.65,265.97 396.4,266.8C398.15,267.63 398.82,267.9 400.3,268.8C401.78,269.7 403.4,271.2 405.3,272.2C407.2,273.2 409.58,273.87 411.7,274.8C413.82,275.73 416.15,276.75 418,277.8C419.85,278.85 421.35,279.97 422.8,281.1C424.25,282.23 425.52,283.35 426.7,284.6C427.88,285.85 428.83,287.28 429.9,288.6C430.97,289.92 431.92,291.32 433.1,292.5C434.28,293.68 435.28,294.83 437,295.7C438.72,296.57 441.23,297.18 443.4,297.7C445.57,298.22 448.23,298.42 450,298.8C451.77,299.18 451.33,299.4 454,300C456.67,300.6 462,301.57 466,302.4C470,303.23 474.33,304.13 478,305C481.67,305.87 485,306.77 488,307.6C491,308.43 493.83,309.2 496,310C498.17,310.8 499.63,311.57 501,312.4C502.37,313.23 503.67,314.57 504.2,315" fill="none" stroke="#FF8000" stroke-width="1.9" stroke-linejoin="round" stroke-linecap="round" clip-path="url(#clipd)"/>
<path d="M312.4,209.8C313.32,210 315.67,210.22 317.9,211C320.13,211.78 323.15,213.12 325.8,214.5C328.45,215.88 331.15,217.85 333.8,219.3C336.45,220.75 339.07,221.93 341.7,223.2C344.33,224.47 346.97,225.72 349.6,226.9C352.23,228.08 354.87,229.25 357.5,230.3C360.13,231.35 363.32,232.42 365.4,233.2C367.48,233.98 368.35,234.45 370,235C371.65,235.55 373.53,235.97 375.3,236.5C377.07,237.03 379.07,237.7 380.6,238.2C382.13,238.7 383.18,238.9 384.5,239.5C385.82,240.1 387.28,240.87 388.5,241.8C389.72,242.73 390.7,243.9 391.8,245.1C392.9,246.3 393.9,247.68 395.1,249C396.3,250.32 397.68,251.78 399,253C400.32,254.22 401.45,255.25 403,256.3C404.55,257.35 406.55,258.35 408.3,259.3C410.05,260.25 411.55,260.92 413.5,262C415.45,263.08 418.25,264.72 420,265.8C421.75,266.88 422.33,267.25 424,268.5C425.67,269.75 428,271.8 430,273.3C432,274.8 434,276.33 436,277.5C438,278.67 440,279.52 442,280.3C444,281.08 446,281.68 448,282.2C450,282.72 451,282.77 454,283.4C457,284.03 461.67,285 466,286C470.33,287 475.67,288.4 480,289.4C484.33,290.4 487.97,291.07 492,292C496.03,292.93 502.17,294.5 504.2,295" fill="none" stroke="#FF00FF" stroke-width="1.9" stroke-linejoin="round" stroke-linecap="round" clip-path="url(#clipd)"/>
<path d="M312.4,209.8C313.85,209.92 318.87,209.98 321.1,210.5C323.33,211.02 323.68,211.83 325.8,212.9C327.92,213.97 331.15,215.58 333.8,216.9C336.45,218.22 339.07,219.57 341.7,220.8C344.33,222.03 346.97,223.23 349.6,224.3C352.23,225.37 354.87,226.25 357.5,227.2C360.13,228.15 363.32,229.27 365.4,230C367.48,230.73 368.35,231.07 370,231.6C371.65,232.13 373.53,232.6 375.3,233.2C377.07,233.8 379.07,234.58 380.6,235.2C382.13,235.82 383.18,236.18 384.5,236.9C385.82,237.62 387.18,238.47 388.5,239.5C389.82,240.53 391.08,241.73 392.4,243.1C393.72,244.47 395.08,246.27 396.4,247.7C397.72,249.13 398.77,250.38 400.3,251.7C401.83,253.02 403.83,254.4 405.6,255.6C407.37,256.8 409.13,257.83 410.9,258.9C412.67,259.97 414.68,261.07 416.2,262C417.72,262.93 418.37,263.33 420,264.5C421.63,265.67 424.33,267.83 426,269C427.67,270.17 428.67,270.7 430,271.5C431.33,272.3 432.33,272.97 434,273.8C435.67,274.63 438,275.67 440,276.5C442,277.33 443.67,277.98 446,278.8C448.33,279.62 450.67,280.53 454,281.4C457.33,282.27 461.67,283.07 466,284C470.33,284.93 475.67,286.07 480,287C484.33,287.93 487.97,288.77 492,289.6C496.03,290.43 502.17,291.6 504.2,292" fill="none" stroke="#008000" stroke-width="1.9" stroke-linejoin="round" stroke-linecap="round" clip-path="url(#clipd)"/>
<rect x="318.5" y="273.5" width="81.5" height="63.5" fill="none" stroke="#262626" stroke-width="1.1"/>
<path d="M319.3,280.1C320.08,280.42 322.22,281.15 324,282C325.78,282.85 327.67,283.67 330,285.2C332.33,286.73 335.33,289.05 338,291.2C340.67,293.35 343.33,295.82 346,298.1C348.67,300.38 351.33,302.78 354,304.9C356.67,307.02 359.33,309.03 362,310.8C364.67,312.57 367.33,314.1 370,315.5C372.67,316.9 375,317.68 378,319.2C381,320.72 385.33,323.08 388,324.6C390.67,326.12 392.02,326.8 394,328.3C395.98,329.8 398.92,332.72 399.9,333.6" fill="none" stroke="#FF00FF" stroke-width="1.9" stroke-linejoin="round" stroke-linecap="round"/>
<path d="M319.3,275C320.08,275.27 322.22,275.73 324,276.6C325.78,277.47 327.67,278.4 330,280.2C332.33,282 335.33,285.02 338,287.4C340.67,289.78 343.33,292.1 346,294.5C348.67,296.9 351.33,299.48 354,301.8C356.67,304.12 359.33,306.45 362,308.4C364.67,310.35 367.33,311.97 370,313.5C372.67,315.03 375,316.03 378,317.6C381,319.17 385.33,321.45 388,322.9C390.67,324.35 392.02,325.05 394,326.3C395.98,327.55 398.92,329.72 399.9,330.4" fill="none" stroke="#008000" stroke-width="1.9" stroke-linejoin="round" stroke-linecap="round"/>
<line x1="311.65" y1="209.5" x2="504.95" y2="209.5" stroke="#000000" stroke-width="1.5"/>
<line x1="311.65" y1="342.7" x2="504.95" y2="342.7" stroke="#000000" stroke-width="1.5"/>
<line x1="312.4" y1="208.75" x2="312.4" y2="343.45" stroke="#000000" stroke-width="1.5"/>
<line x1="504.2" y1="208.75" x2="504.2" y2="343.45" stroke="#000000" stroke-width="1.5"/>
<line x1="426.5" y1="220" x2="454" y2="220" stroke="#FF8000" stroke-width="1.8"/>
<line x1="426.5" y1="234.4" x2="454" y2="234.4" stroke="#FF00FF" stroke-width="1.8"/>
<line x1="426.5" y1="249.1" x2="454" y2="249.1" stroke="#008000" stroke-width="1.8"/>
<text x="457.6" y="224" fill="#1a1a1a" stroke="#1a1a1a" stroke-width="0.25" font-size="12" text-anchor="start">PF</text>
<text x="457.6" y="238.4" fill="#1a1a1a" stroke="#1a1a1a" stroke-width="0.25" font-size="12" text-anchor="start">LPF</text>
<text x="457.6" y="253.1" fill="#1a1a1a" stroke="#1a1a1a" stroke-width="0.25" font-size="12" text-anchor="start">LPFF15</text>
<text transform="translate(293.2,274.5) rotate(-90)" fill="#1a1a1a" stroke="#1a1a1a" stroke-width="0.25" font-size="12" text-anchor="middle">Weight retention (%)</text>
<text x="92.4" y="185.3" fill="#1a1a1a" stroke="#1a1a1a" stroke-width="0.25" font-size="12">Temperature <tspan stroke-width="0.1" dx="1.2">(</tspan><tspan font-family="'Liberation Sans', IPAGothic, sans-serif" stroke-width="0.1" dx="0.6">℃</tspan><tspan stroke-width="0.1" dx="1.2">)</tspan></text>
<text x="361.8" y="184" fill="#1a1a1a" stroke="#1a1a1a" stroke-width="0.25" font-size="12">Temperature <tspan stroke-width="0.1" dx="1.2">(</tspan><tspan font-family="'Liberation Sans', IPAGothic, sans-serif" stroke-width="0.1" dx="0.6">℃</tspan><tspan stroke-width="0.1" dx="1.2">)</tspan></text>
<text x="92.6" y="370.2" fill="#1a1a1a" stroke="#1a1a1a" stroke-width="0.25" font-size="12">Temperature <tspan stroke-width="0.1" dx="1.2">(</tspan><tspan font-family="'Liberation Sans', IPAGothic, sans-serif" stroke-width="0.1" dx="0.6">℃</tspan><tspan stroke-width="0.1" dx="1.2">)</tspan></text>
<text x="365" y="369.5" fill="#1a1a1a" stroke="#1a1a1a" stroke-width="0.25" font-size="12">Temperature <tspan stroke-width="0.1" dx="1.2">(</tspan><tspan font-family="'Liberation Sans', IPAGothic, sans-serif" stroke-width="0.1" dx="0.6">℃</tspan><tspan stroke-width="0.1" dx="1.2">)</tspan></text>
</svg>
</body></html>
